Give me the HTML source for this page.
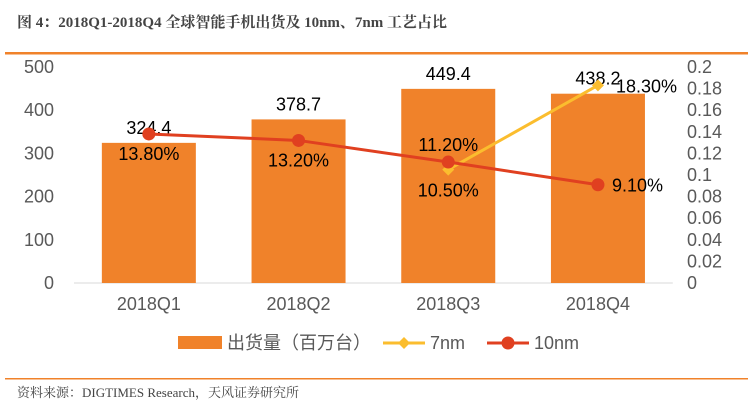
<!DOCTYPE html>
<html><head><meta charset="utf-8"><style>
body{margin:0;width:754px;height:410px;background:#fff;overflow:hidden;font-family:"Liberation Sans","Noto Sans CJK SC",sans-serif}
.s{font-family:"Liberation Serif","Noto Serif CJK SC",serif}
</style></head><body>
<svg width="754" height="410" font-family="Liberation Sans, Noto Sans CJK SC, sans-serif">
<text class="s" x="17" y="27" font-size="15" font-weight="bold" fill="#444">图 4：2018Q1-2018Q4 全球智能手机出货及 10nm、7nm 工艺占比</text>
<rect x="5" y="52" width="743" height="2.5" fill="#f0822a"/>
<g id="g"></g>
<rect x="5" y="378" width="743" height="1.5" fill="#f0822a"/>
<text class="s" x="17" y="397" font-size="13" fill="#444">资料来源：DIGTIMES Research，天风证券研究所</text>
</svg>
<script>
const categories=["2018Q1","2018Q2","2018Q3","2018Q4"];
const shipments=[324.4,378.7,449.4,438.2];
const nm7=[null,null,0.105,0.183];
const nm10=[0.138,0.132,0.112,0.091];
const leftTicks=[0,100,200,300,400,500];
const rightTicks=[0,0.02,0.04,0.06,0.08,0.1,0.12,0.14,0.16,0.18,0.2];
const g=document.getElementById('g');const NS='http://www.w3.org/2000/svg';
function mk(t,a,p){const e=document.createElementNS(NS,t);for(const k in a)e.setAttribute(k,a[k]);(p||g).appendChild(e);return e;}
const y0=283,y1=67,x0=74,cw=149.7,FS=18;
const yL=v=>y0-(v/500)*(y0-y1), yR=v=>y0-(v/0.2)*(y0-y1), xC=i=>x0+cw*(i+0.5);
leftTicks.forEach(v=>{const t=mk('text',{x:54,y:yL(v)+6,'text-anchor':'end','font-size':FS,fill:'#595959'});t.textContent=v;

});
rightTicks.forEach(v=>{const t=mk('text',{x:687,y:yR(v)+6,'font-size':FS,fill:'#595959'});t.textContent=v;

});
const ax=mk('line',{x1:x0,x2:x0+cw*4,y1:y0,y2:y0,stroke:'#d9d9d9'});


categories.forEach((c,i)=>{
const r=mk('rect',{x:xC(i)-47,y:yL(shipments[i]),width:94,height:y0-yL(shipments[i]),fill:'#f0822a'});


const t=mk('text',{x:xC(i),y:yL(shipments[i])-9,'text-anchor':'middle','font-size':FS,fill:'#000'});t.textContent=shipments[i];


const l=mk('text',{x:xC(i),y:310,'text-anchor':'middle','font-size':FS,fill:'#595959'});l.textContent=c;

});
let p7=[];nm7.forEach((v,i)=>{if(v!=null)p7.push(xC(i)+','+yR(v));});
const pl7=mk('polyline',{points:p7.join(' '),fill:'none',stroke:'#fbbd2e','stroke-width':3});


nm7.forEach((v,i)=>{if(v==null)return;const x=xC(i),y=yR(v);
const d=mk('path',{d:`M${x} ${y-6}L${x+6} ${y}L${x} ${y+6}L${x-6} ${y}Z`,fill:'#fbbd2e'});

});
const pl10=mk('polyline',{points:nm10.map((v,i)=>xC(i)+','+yR(v)).join(' '),fill:'none',stroke:'#e04020','stroke-width':3});


nm10.forEach((v,i)=>{const c=mk('circle',{cx:xC(i),cy:yR(v),r:6.5,fill:'#e04020'});

});
const lbl=[[xC(0),yR(nm10[0])+26,'middle',(nm10[0]*100).toFixed(2)+'%'],[xC(1),yR(nm10[1])+26,'middle',(nm10[1]*100).toFixed(2)+'%'],[xC(2),yR(nm10[2])-11,'middle',(nm10[2]*100).toFixed(2)+'%'],[xC(2),yR(nm7[2])+27,'middle',(nm7[2]*100).toFixed(2)+'%'],[xC(3)+14,yR(nm10[3])+7,'start',(nm10[3]*100).toFixed(2)+'%'],[xC(3)+18,yR(nm7[3])+7,'start',(nm7[3]*100).toFixed(2)+'%']];
lbl.forEach(a=>{const t=mk('text',{x:a[0],y:a[1],'text-anchor':a[2],'font-size':FS,fill:'#000'});t.textContent=a[3];

});
const lg=mk('g',{});
const r1=mk('rect',{x:178,y:336,width:44,height:13,fill:'#f0822a'},lg);


const t1=mk('text',{x:227,y:349,'font-size':FS,fill:'#595959'},lg);t1.textContent='出货量（百万台）';


const l2=mk('line',{x1:383,x2:425,y1:343,y2:343,stroke:'#fbbd2e','stroke-width':3},lg);


mk('path',{d:'M404 337L410 343L404 349L398 343Z',fill:'#fbbd2e'},lg);
const t2=mk('text',{x:430,y:349,'font-size':FS,fill:'#595959'},lg);t2.textContent='7nm';


const l3=mk('line',{x1:487,x2:529,y1:343,y2:343,stroke:'#e04020','stroke-width':3},lg);


mk('circle',{cx:508,cy:343,r:6.5,fill:'#e04020'},lg);
const t3=mk('text',{x:534,y:349,'font-size':FS,fill:'#595959'},lg);t3.textContent='10nm';


</script>
</body></html>
